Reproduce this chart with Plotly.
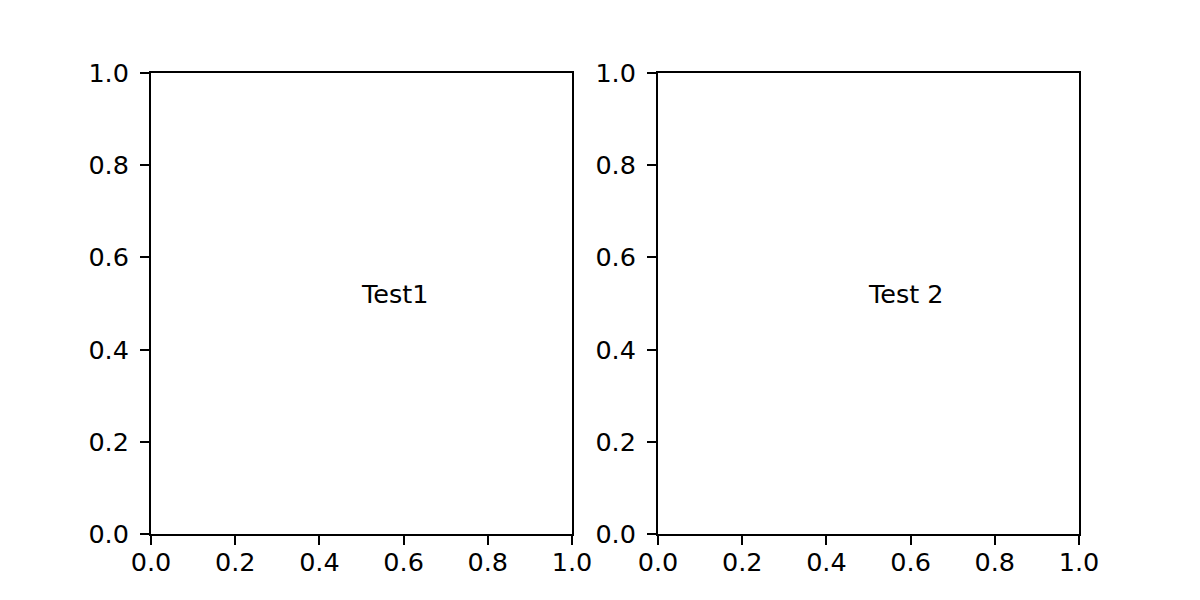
import plotly.graph_objects as go
from plotly.subplots import make_subplots

# axis limits and ticks (same on both panels)
axis_range = [0.0, 1.0]
tick_vals = [0.0, 0.2, 0.4, 0.6, 0.8, 1.0]
tick_text = ["0.0", "0.2", "0.4", "0.6", "0.8", "1.0"]

# text labels placed in data coordinates
label_texts = ["Test1", "Test 2"]
label_x = [0.5, 0.5]
label_y = [0.5, 0.5]

fig = make_subplots(rows=1, cols=2)

font = dict(family="DejaVu Sans", size=25.5, color="black")

axis_style = dict(
    range=axis_range,
    tickmode="array",
    tickvals=tick_vals,
    ticktext=tick_text,
    ticks="outside",
    ticklen=9,
    tickwidth=2,
    tickcolor="black",
    showline=True,
    linecolor="black",
    linewidth=2,
    mirror=True,
    showgrid=False,
    zeroline=False,
    automargin=False,
    tickfont=font,
)

# subplot positions (page body adds ~7px offset, compensated here)
x1_dom = [0.1192, 0.4700]
x2_dom = [0.5417, 0.8925]
y_dom = [0.1233, 0.8917]

fig.update_layout(
    xaxis=dict(domain=x1_dom, ticklabelstandoff=-5, **axis_style),
    yaxis=dict(domain=y_dom, ticklabelstandoff=6, **axis_style),
    xaxis2=dict(domain=x2_dom, ticklabelstandoff=-5, **axis_style),
    yaxis2=dict(domain=y_dom, ticklabelstandoff=6, **axis_style),
)

for i, txt in enumerate(label_texts):
    fig.add_annotation(
        x=label_x[i], y=label_y[i],
        xref="x" if i == 0 else "x2",
        yref="y" if i == 0 else "y2",
        text=txt, showarrow=False,
        xanchor="left", yanchor="bottom",
        xshift=-3, yshift=-7,
        font=font,
    )

fig.update_layout(
    width=1200, height=600,
    margin=dict(l=0, r=0, t=0, b=0),
    plot_bgcolor="white",
    paper_bgcolor="white",
    showlegend=False,
)

fig.write_html("out.html")
